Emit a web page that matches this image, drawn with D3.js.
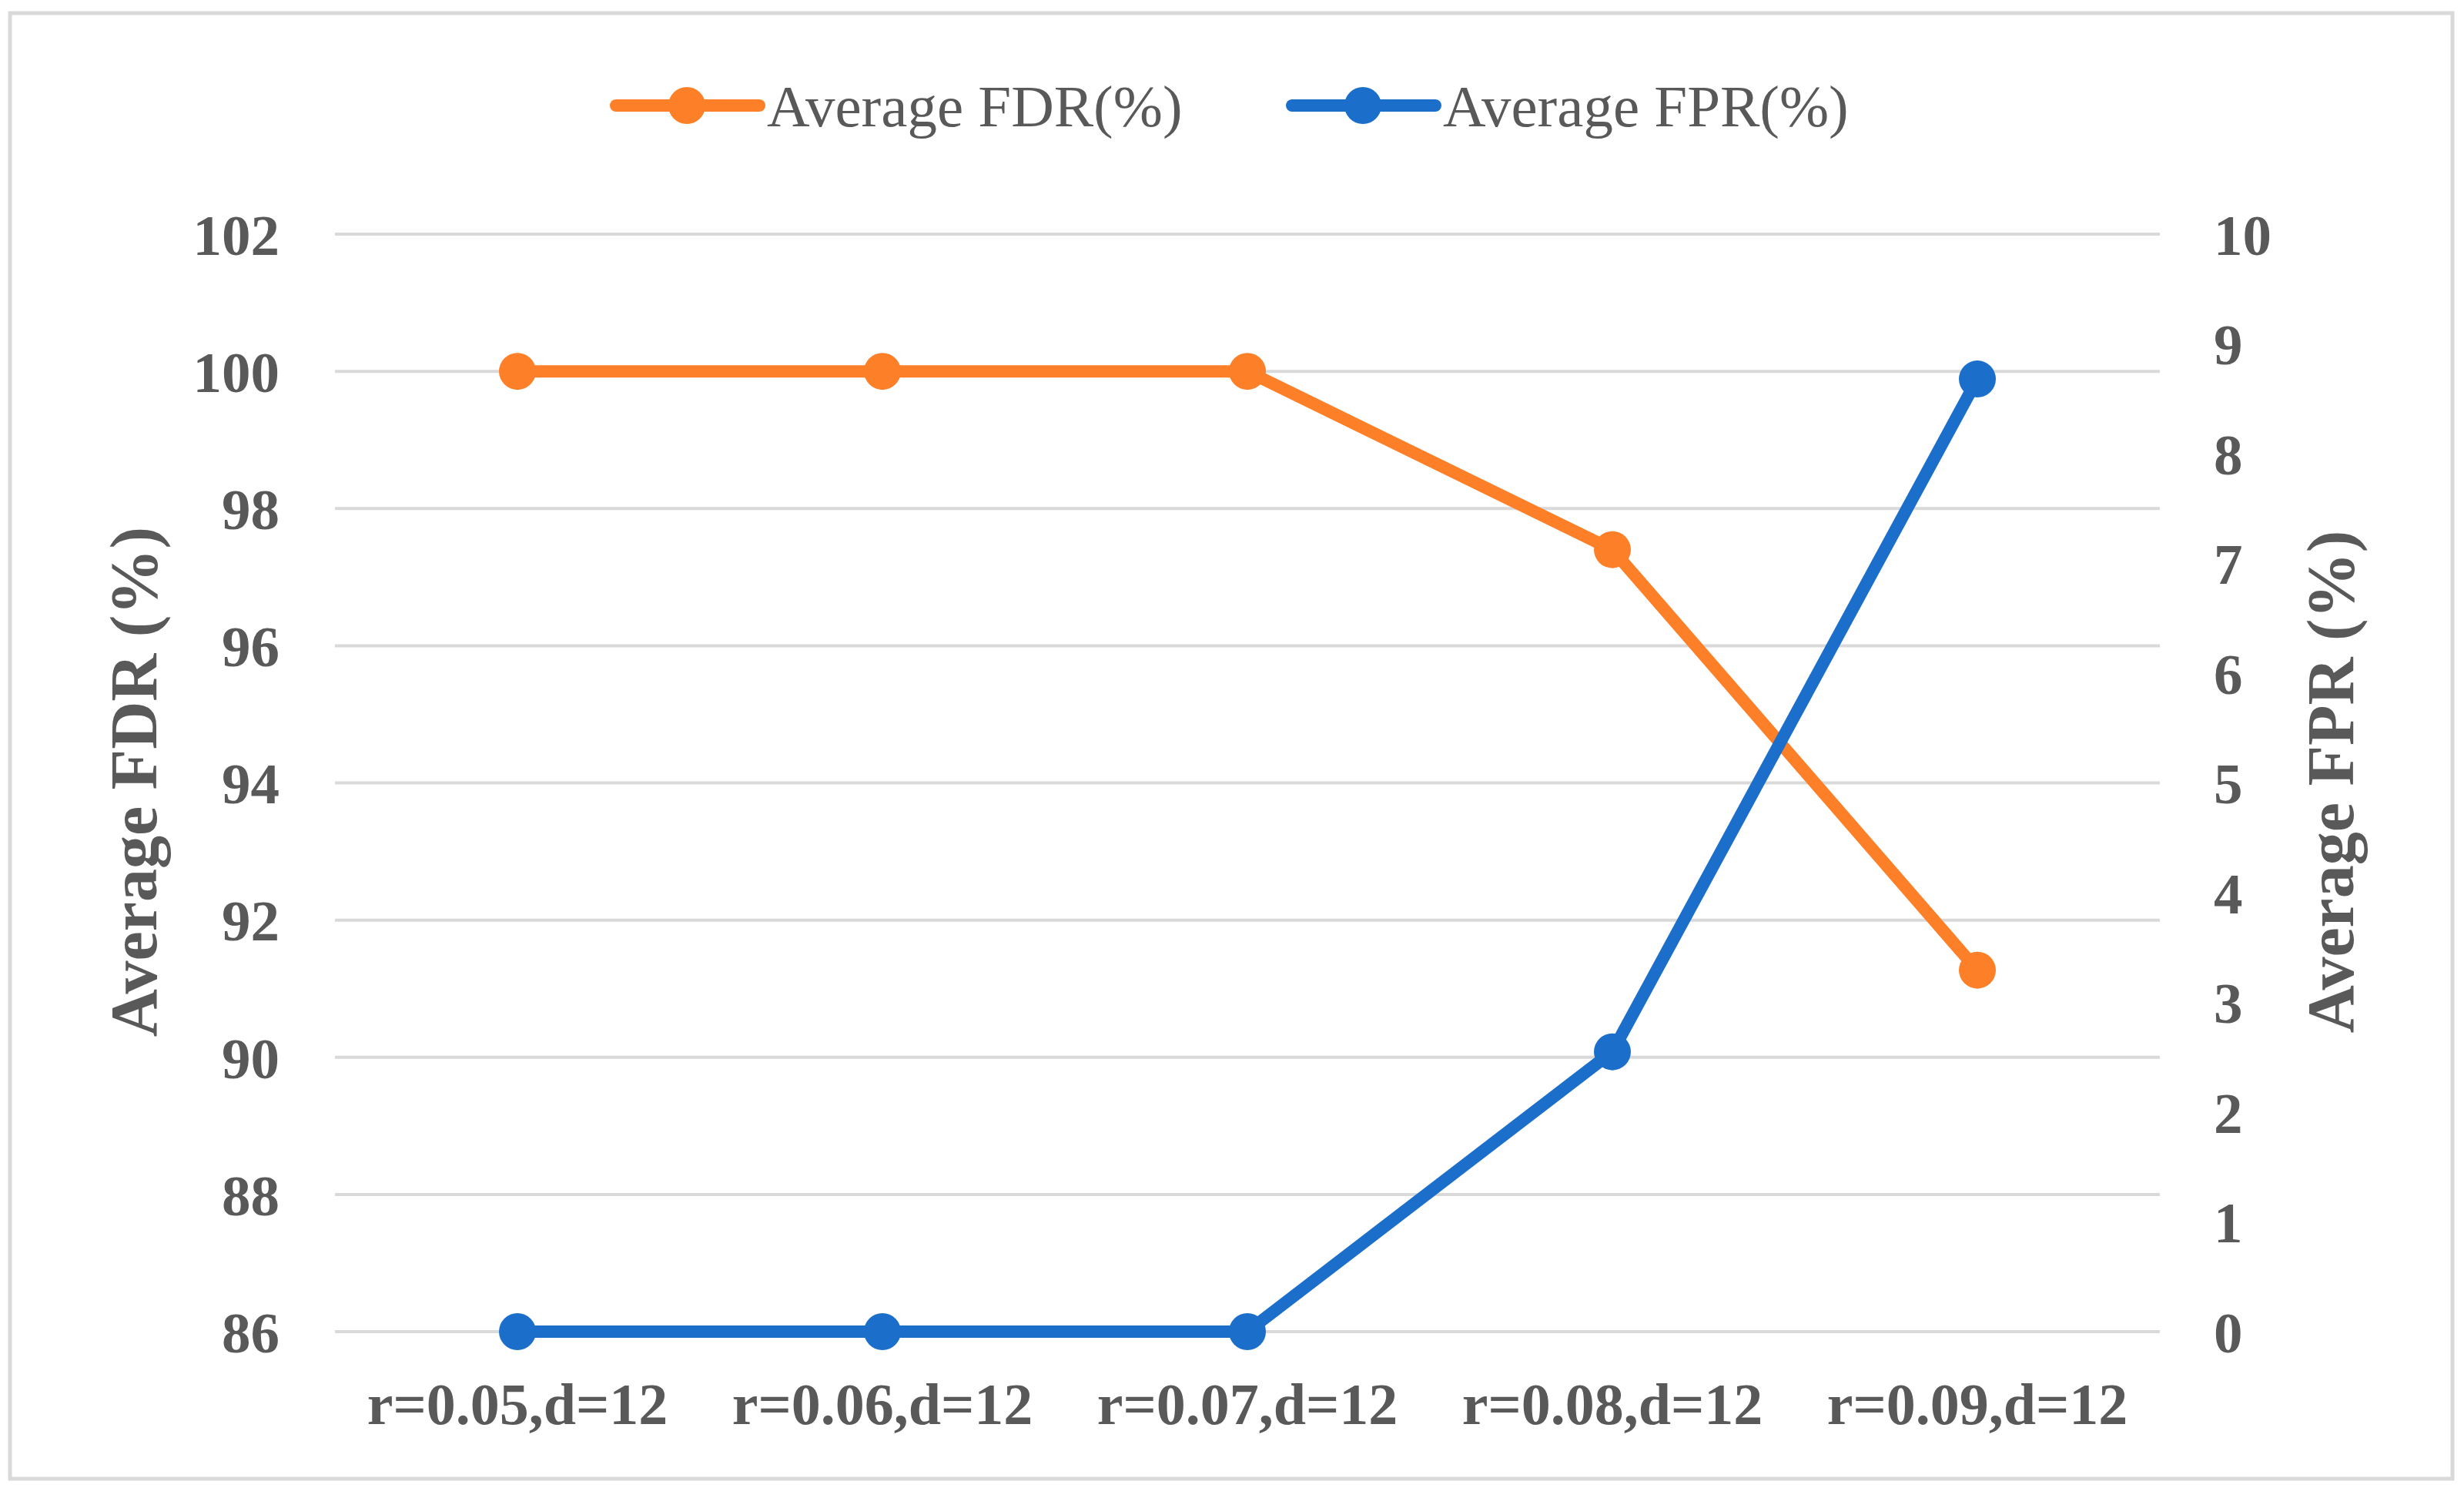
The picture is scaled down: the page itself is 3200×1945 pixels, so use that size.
<!DOCTYPE html>
<html>
<head>
<meta charset="utf-8">
<script src="https://cdn.jsdelivr.net/npm/d3@7"></script>
<style>
  body { margin: 0; background: #fff; }
  svg text { font-family: "Liberation Serif", "Times New Roman", serif; fill: #595959; }
</style>
</head>
<body>
<svg id="chart" width="3200" height="1945"></svg>
<script>
// data
var categories = ["r=0.05,d=12", "r=0.06,d=12", "r=0.07,d=12", "r=0.08,d=12", "r=0.09,d=12"];
var fdrValues = [100, 100, 100, 97.4, 91.27];
var fprValues = [0, 0, 0, 2.55, 8.68];
var leftTicks = [86, 88, 90, 92, 94, 96, 98, 100, 102];
var rightTicks = [0, 1, 2, 3, 4, 5, 6, 7, 8, 9, 10];

var orange = "#FD7F28", blue = "#1B6FCB", grid = "#D9D9D9";

var margin = {top: 304, left: 435, right: 395, bottom: 216};
var width = 3200 - margin.left - margin.right,
    height = 1945 - margin.top - margin.bottom;

var svg = d3.select("#chart");

// outer frame
svg.append("rect")
    .attr("x", 13).attr("y", 17)
    .attr("width", 3172).attr("height", 1903)
    .attr("fill", "none")
    .attr("stroke", grid)
    .attr("stroke-width", 5);

var g = svg.append("g")
    .attr("transform", "translate(" + margin.left + "," + margin.top + ")");

var x = d3.scaleBand().domain(categories).range([0, width]);
var yL = d3.scaleLinear().domain([86, 102]).range([height, 0]);
var yR = d3.scaleLinear().domain([0, 10]).range([height, 0]);

// gridlines
g.append("g")
    .selectAll("line")
    .data(leftTicks)
    .enter()
    .append("line")
    .attr("x1", 0).attr("x2", width)
    .attr("y1", function(d){ return yL(d); })
    .attr("y2", function(d){ return yL(d); })
    .attr("stroke", grid)
    .attr("stroke-width", 4);

// left axis
var leftAxis = g.append("g")
    .attr("transform", "translate(-72,0)")
    .call(d3.axisLeft(yL).tickValues(leftTicks).tickSize(0).tickPadding(0));
leftAxis.select(".domain").remove();
leftAxis.selectAll("text")
    .attr("dy", "0.35em")
    .style("font-size", "75px")
    .style("font-weight", "bold")
    .style("fill", "#595959");

// right axis
var rightAxis = g.append("g")
    .attr("transform", "translate(" + (width + 70) + ",0)")
    .call(d3.axisRight(yR).tickValues(rightTicks).tickSize(0).tickPadding(0));
rightAxis.select(".domain").remove();
rightAxis.selectAll("text")
    .attr("dy", "0.35em")
    .style("font-size", "75px")
    .style("font-weight", "bold")
    .style("fill", "#595959");

// bottom axis
var bottomAxis = g.append("g")
    .attr("transform", "translate(0," + height + ")")
    .call(d3.axisBottom(x).tickSize(0).tickPadding(0));
bottomAxis.select(".domain").remove();
bottomAxis.selectAll("text")
    .attr("y", 120)
    .attr("dy", 0)
    .style("font-size", "76px")
    .style("font-weight", "bold")
    .style("fill", "#595959");

// axis titles
svg.append("text")
    .attr("transform", "translate(203,1015) rotate(-90)")
    .attr("text-anchor", "middle")
    .style("font-size", "86px")
    .style("font-weight", "bold")
    .text("Average  FDR (%)");

svg.append("text")
    .attr("transform", "translate(3056,1015) rotate(-90)")
    .attr("text-anchor", "middle")
    .style("font-size", "86px")
    .style("font-weight", "bold")
    .text("Average  FPR (%)");

// lines
function cx(d, i){ return x(categories[i]) + x.bandwidth() / 2; }

var series = [
    {name: "Average FDR(%)", values: fdrValues, y: yL, color: orange},
    {name: "Average FPR(%)", values: fprValues, y: yR, color: blue}
];

series.forEach(function(s){
    var line = d3.line()
        .x(cx)
        .y(function(d){ return s.y(d); });

    g.append("path")
        .datum(s.values)
        .attr("d", line)
        .attr("fill", "none")
        .attr("stroke", s.color)
        .attr("stroke-width", 16)
        .attr("stroke-linejoin", "round");

    g.selectAll(null)
        .data(s.values)
        .enter()
        .append("circle")
        .attr("cx", cx)
        .attr("cy", function(d){ return s.y(d); })
        .attr("r", 24)
        .attr("fill", s.color);
});

// legend
var legend = svg.append("g").attr("transform", "translate(0,137)");
var legendX = [800, 1678];
series.forEach(function(s, i){
    var lg = legend.append("g").attr("transform", "translate(" + legendX[i] + ",0)");
    lg.append("line")
        .attr("x1", 0).attr("x2", 186)
        .attr("y1", 0).attr("y2", 0)
        .attr("stroke", s.color)
        .attr("stroke-width", 16)
        .attr("stroke-linecap", "round");
    lg.append("circle")
        .attr("cx", 92).attr("cy", 0)
        .attr("r", 24)
        .attr("fill", s.color);
    lg.append("text")
        .attr("x", 196).attr("y", 0)
        .attr("dy", "0.35em")
        .style("font-size", "77px")
        .text(s.name);
});
</script>
</body>
</html>
